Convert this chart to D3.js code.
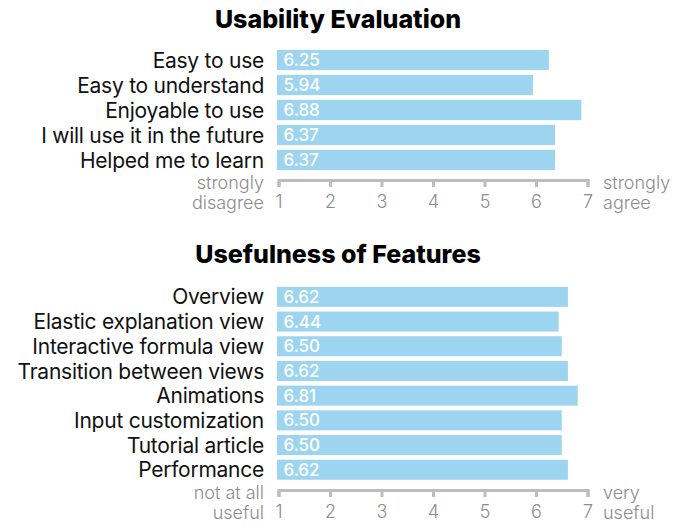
<!DOCTYPE html>
<html>
<head>
<meta charset="utf-8">
<script src="https://cdn.jsdelivr.net/npm/d3@7"></script>
<style>
  body { margin: 0; background: #fff; }
  svg { font-family: Inter, Roboto, sans-serif; }
</style>
</head>
<body>
<svg width="676" height="530"></svg>
<script>
// top chart
const usabilityTitle = 'Usability Evaluation';
const usabilityItems = ['Easy to use', 'Easy to understand', 'Enjoyable to use', 'I will use it in the future', 'Helped me to learn'];
const usabilityScores = [6.25, 5.94, 6.88, 6.37, 6.37];
const usabilityLow = ['strongly', 'disagree'];
const usabilityHigh = ['strongly', 'agree'];

// bottom chart
const featuresTitle = 'Usefulness of Features';
const featureItems = ['Overview', 'Elastic explanation view', 'Interactive formula view', 'Transition between views', 'Animations', 'Input customization', 'Tutorial article', 'Performance'];
const featureScores = [6.62, 6.44, 6.50, 6.62, 6.81, 6.50, 6.50, 6.62];
const featuresLow = ['not at all', 'useful'];
const featuresHigh = ['very', 'useful'];

const scaleTicks = [1, 2, 3, 4, 5, 6, 7];

const svg = d3.select('svg');
const x = d3.scaleLinear().domain([1, 7]).range([278.5, 587.5]);

function drawChart(title, items, scores, lowText, highText, titleY, top, step, axisY) {
    const g = svg.append('g');

    g.append('text')
        .attr('x', 338)
        .attr('y', titleY)
        .attr('text-anchor', 'middle')
        .style('font-size', '25px')
        .style('font-weight', 800)
        .text(title);

    const y = d3.scaleBand()
        .domain(items)
        .range([top, top + items.length * step])
        .paddingInner(0.19)
        .paddingOuter(0.095);

    const data = items.map((d, i) => ({ name: d, v: scores[i] }));

    g.selectAll('rect.bar')
        .data(data)
        .enter()
        .append('rect')
        .attr('class', 'bar')
        .attr('x', x(1) - 1.5)
        .attr('y', d => y(d.name))
        .attr('width', d => x(d.v) - x(1) + 1.5)
        .attr('height', y.bandwidth())
        .attr('fill', '#9dd5f1')

    g.selectAll('text.val')
        .data(data)
        .enter()
        .append('text')
        .attr('class', 'val')
        .attr('x', x(1) + 5)
        .attr('y', d => y(d.name) + y.bandwidth() / 2)
        .attr('dy', '0.36em')
        .attr('fill', '#fff')
        .style('font-size', '17px')
        .style('font-weight', 500)
        .text(d => d.v.toFixed(2));

    g.selectAll('text.cat')
        .data(data)
        .enter()
        .append('text')
        .attr('class', 'cat')
        .attr('x', 264)
        .attr('y', d => y(d.name) + y.bandwidth() / 2)
        .attr('dy', '0.36em')
        .attr('text-anchor', 'end')
        .attr('fill', '#111')
        .style('font-size', '21px')
        .style('letter-spacing', '-0.25px')
        .text(d => d.name);

    const axis = g.append('g')
        .attr('transform', `translate(0,${axisY})`)
        .call(d3.axisBottom(x).tickValues(scaleTicks).tickSize(7).tickPadding(8).tickFormat(d3.format('d')));
    axis.select('.domain').attr('stroke', '#bdbdbd').attr('stroke-width', 3);
    axis.selectAll('.tick line').attr('stroke', '#bdbdbd').attr('stroke-width', 3);
    axis.selectAll('.tick text')
        .attr('fill', '#8c8c8c')
        .style('font-size', '18px')
        .style('font-weight', 300)
        .style('font-family', 'Inter, sans-serif');

    const side = (lines, xPos, anchor) => {
        g.selectAll(null)
            .data(lines)
            .enter()
            .append('text')
            .attr('x', xPos)
            .attr('y', (d, i) => axisY + 9 + i * 20)
            .attr('text-anchor', anchor)
            .attr('fill', '#8c8c8c')
            .style('font-size', '18px')
            .style('font-weight', 300)
            .text(d => d);
    };
    side(lowText, 264, 'end');
    side(highText, 603, 'start');
}

drawChart(usabilityTitle, usabilityItems, usabilityScores, usabilityLow, usabilityHigh, 28, 47.5, 25, 180);
drawChart(featuresTitle, featureItems, featureScores, featuresLow, featuresHigh, 263, 284.5, 24.7, 490);
</script>
</body>
</html>
